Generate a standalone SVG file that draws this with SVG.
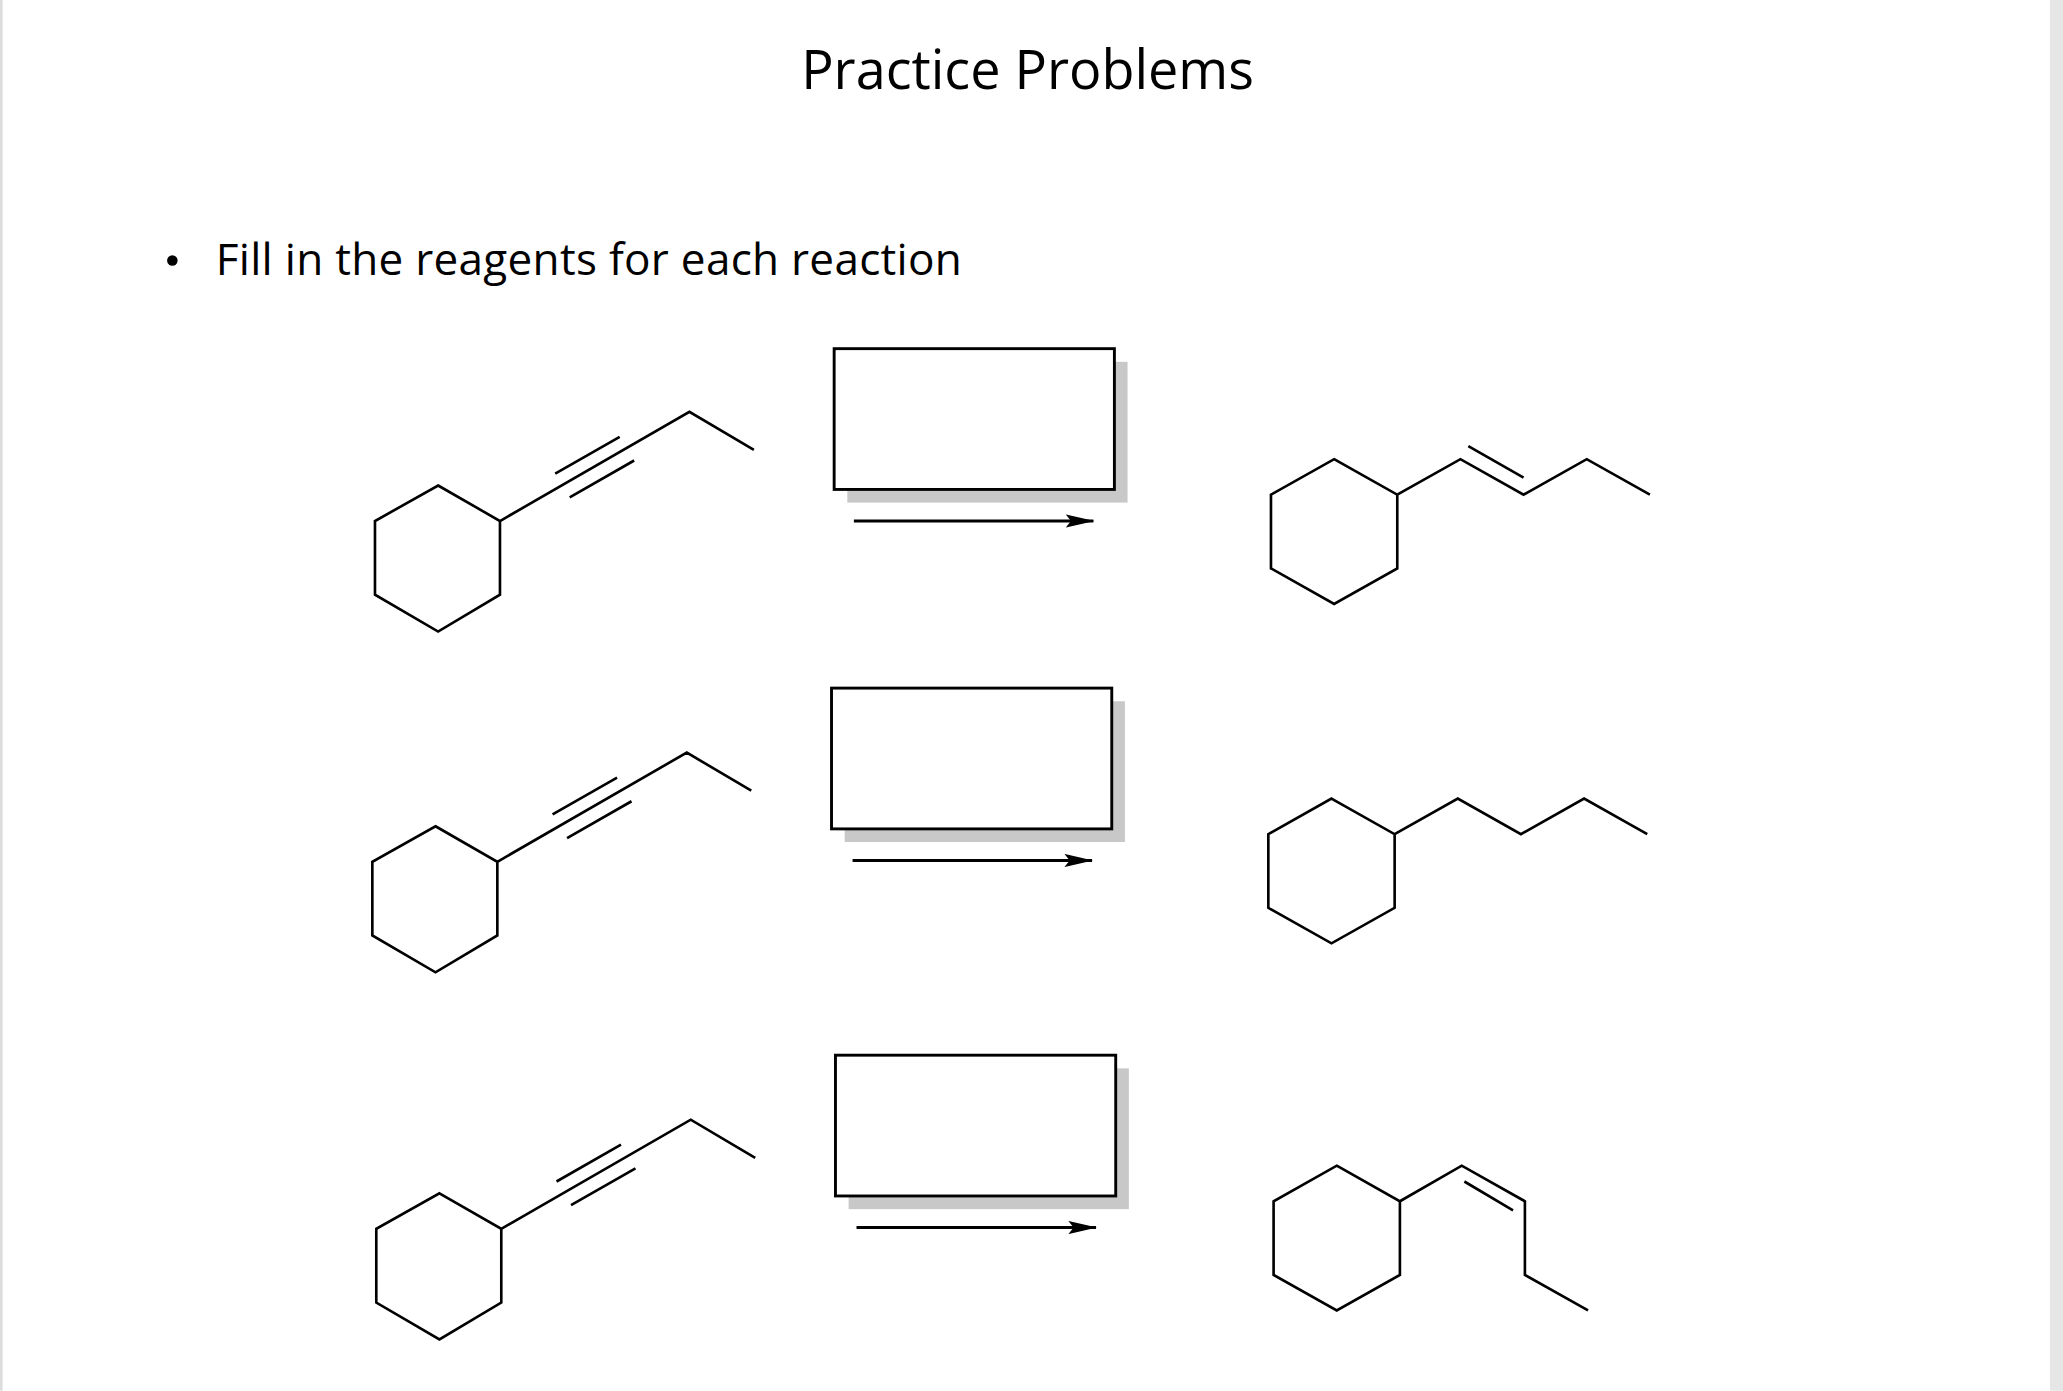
<svg xmlns="http://www.w3.org/2000/svg" width="2063" height="1391" viewBox="0 0 2063 1391">
<style>
.b{fill:none;stroke:#000;stroke-width:2;stroke-linejoin:miter}
.box{fill:#fff;stroke:#000;stroke-width:2.2}
.sh{fill:#c8c8c8}
.ar{stroke:#000;stroke-width:2.2;marker-end:url(#ah)}
text{font-family:"Open Sans","Liberation Sans",sans-serif;fill:#000}
</style>
<defs>
<marker id="ah" markerWidth="22" markerHeight="10" refX="21" refY="5" orient="auto" markerUnits="userSpaceOnUse"><path d="M0,0 L22,5 L0,10 L4,5 Z" fill="#000"/></marker>
<g id="alkyne"><path class="b" d="M333,369 L380,396 L380,452 L333,480 L285,452 L285,396 Z M380,396 L524,313 L573,342 M422,360 L471,332 M433,378 L482,350"/></g>
</defs>
<rect width="2063" height="1391" fill="#fff"/>
<g transform="scale(1.3157)">
<rect x="0" y="0" width="2" height="1057" fill="#ddd"/>
<rect x="1558" y="0" width="10" height="1057" fill="#e6e6e6"/>
<text id="title" x="781" y="68" font-size="41" text-anchor="middle">Practice Problems</text>
<g id="bullet"><circle cx="131" cy="198" r="4" fill="#000"/><text x="164" y="209" font-size="33.5" textLength="567">Fill in the reagents for each reaction</text></g>
<g id="r1"><use href="#alkyne"/></g>
<g id="r2"><use href="#alkyne" transform="translate(-2,259)"/></g>
<g id="r3"><use href="#alkyne" transform="translate(1,538)"/></g>
<g id="box1"><rect class="sh" x="644" y="275" width="213" height="107"/><rect class="box" x="634" y="265" width="213" height="107"/></g>
<g id="box2"><rect class="sh" x="642" y="533" width="213" height="107"/><rect class="box" x="632" y="523" width="213" height="107"/></g>
<g id="box3"><rect class="sh" x="645" y="812" width="213" height="107"/><rect class="box" x="635" y="802" width="213" height="107"/></g>
<g id="connectors">
<line class="ar" x1="649" y1="396" x2="831" y2="396"/>
<line class="ar" x1="648" y1="654" x2="830" y2="654"/>
<line class="ar" x1="651" y1="933" x2="833" y2="933"/>
</g>
<g id="p1"><path class="b" d="M1014,349 L1062,376 L1062,432 L1014,459 L966,432 L966,376 Z M1062,376 L1110,349 L1158,376 L1206,349 L1254,376 M1116,339 L1158,363"/></g>
<g id="p2"><path class="b" d="M1012,607 L1060,634 L1060,690 L1012,717 L964,690 L964,634 Z M1060,634 L1108,607 L1156,634 L1204,607 L1252,634"/></g>
<g id="p3"><path class="b" d="M1016,886 L1064,913 L1064,969 L1016,996 L968,969 L968,913 Z M1064,913 L1111,886 L1159,913 L1159,969 L1207,996 M1113,898 L1150,920"/></g>
</g>
</svg>
